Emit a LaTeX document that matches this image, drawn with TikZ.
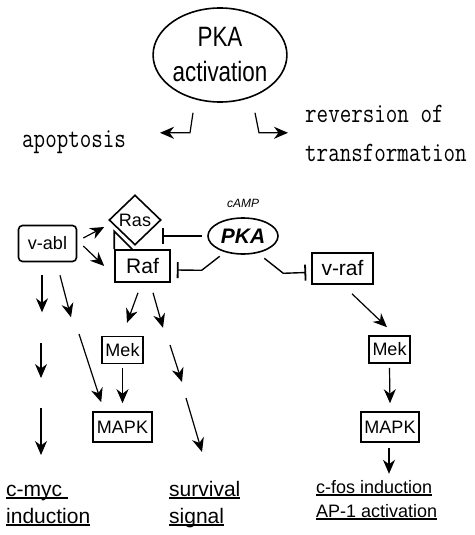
\documentclass[tikz,border=0pt]{standalone}
\usepackage{fontspec}
\setmainfont{Liberation Sans}
\usepackage{graphicx}
\usetikzlibrary{arrows.meta, calc, positioning, shapes.geometric}

\newcommand{\narrowed}[1]{\scalebox{0.8}[1]{#1}}
\newsavebox{\ulbox}
\newcommand{\undertext}[1]{\sbox{\ulbox}{#1}\rlap{\rule[-2.5pt]{\wd\ulbox}{1.1pt}}\usebox{\ulbox}}

\begin{document}
\begin{tikzpicture}[x=1pt, y=-1pt,
    box/.style={draw, line width=1.6pt, inner sep=0pt, font=\fontsize{18}{18}\selectfont},
    arr/.style={line width=1.2pt, -{Stealth[length=14pt, width=12pt, inset=4.5pt]}},
    inh/.style={line width=1.4pt, -{Bar[width=16pt, line width=1.8pt]}},
    mono/.style={font=\fontsize{28}{39}\ttfamily, align=left, anchor=base west, inner sep=0pt},
    outcome/.style={align=left, anchor=base west, inner sep=0pt}]
    \useasboundingbox (0,0) rectangle (474,535);

    % PKA activation and its two outcomes
    \node[draw, ellipse, line width=1.6pt, minimum width=128pt, minimum height=94pt, inner sep=0pt,
        align=center, font=\fontsize{28}{35}\selectfont] (act) at (220,55) {\narrowed{PKA}\\\narrowed{activation}};
    \node[mono] (apo) at (22,147) {\narrowed{apoptosis}};
    \node[mono] (rev) at (305,161) {\narrowed{reversion of}\\\narrowed{transformation}};
    \draw[arr] ($(act.south)+(-27,10)$) -- ++(-3,20) -- ++(-30,0);
    \draw[arr] ($(act.south)+(35,10)$) -- ++(4,20) -- ++(29,0);

    % Signalling nodes
    \node[box, rounded corners=4pt, minimum width=58pt, minimum height=36pt] (vabl) at (47.5,243.5) {v-abl};
    \node[draw, diamond, line width=1.6pt, minimum width=52pt, minimum height=50pt, inner sep=0pt,
        font=\fontsize{18}{18}\selectfont] (ras) at (135,220) {Ras};
    \node[box, minimum width=55pt, minimum height=32pt, font=\fontsize{21}{21}\selectfont] (raf) at (142.5,266) {Raf};
    \draw[line width=1.6pt] (raf.north west) -- ++(0,-18) -- ++(18,18);
    \node[draw, ellipse, line width=1.6pt, minimum width=70pt, minimum height=36pt, inner sep=0pt,
        font=\fontsize{21}{21}\selectfont\bfseries\itshape] (pka) at (243,236) {PKA};
    \node[font=\fontsize{12}{12}\selectfont\itshape, inner sep=0pt] (camp) at (243,203) {cAMP};
    \node[box, minimum width=61pt, minimum height=31pt, font=\fontsize{21}{21}\selectfont] (vraf) at (342.5,268.5) {v-raf};
    \node[box, minimum width=41pt, minimum height=27pt] (mekL) at (122.5,350) {Mek};
    \node[box, minimum width=59pt, minimum height=30pt] (mapkL) at (122.5,427) {MAPK};
    \node[box, minimum width=41pt, minimum height=27pt] (mekR) at (389.5,349.5) {Mek};
    \node[box, minimum width=58pt, minimum height=30pt] (mapkR) at (390,427) {MAPK};

    % Outcomes
    \node[outcome, font=\fontsize{21}{27}\selectfont] (myc) at (6,523) {\undertext{c-myc\ }\\\undertext{induction}};
    \node[outcome, font=\fontsize{21}{27}\selectfont] (surv) at (169,523) {\undertext{survival}\\\undertext{signal}};
    \node[outcome, font=\fontsize{18}{24}\selectfont] (fos) at (316,517) {\undertext{c-fos induction}\\\undertext{AP-1 activation}};

    % Inhibition by PKA
    \draw[inh] ($(pka.west)+(-5,0)$) -- (ras.east |- pka.west);
    \draw[inh] ($(pka.south west)+(2,7)$) -- ++(-18,14) -- ($(raf.east)+(6,4)$);
    \draw[inh] ($(pka.south east)+(-4,9)$) -- ++(19,15) -- ($(vraf.west)+(-5,4)$);

    % Arrows out of v-abl and Raf
    \draw[arr] ($(vabl.east)+(6,-5.5)$) -- ($(ras.west)+(-4,7)$);
    \draw[arr] ($(vabl.east)+(6,2.5)$) -- ($(raf.west)+(-10,0)$);
    \draw[arr] ($(vabl.south)+(-5.5,13)$) -- ++(0,37);
    \draw[arr] ($(vabl.south)+(12.5,13)$) -- ++(11,42);
    \draw[arr] ($(raf.south)+(-4.5,10)$) -- ++(-11,30);
    \draw[arr] ($(raf.south)+(10.5,10)$) -- ++(10,35);

    % Free arrows towards the outcomes
    \coordinate (myc1) at (41,343);
    \coordinate (myc2) at (41,408);
    \coordinate (abl2) at (79,334);
    \coordinate (surv1) at (170,345);
    \coordinate (surv2) at (186,398);
    \draw[arr] (myc1) -- ++(0,35);
    \draw[arr] (myc2) -- ++(0,47);
    \draw[arr] (abl2) -- ($(mapkL.north west)+(9,-9)$);
    \draw[arr] (surv1) -- ++(12,37);
    \draw[arr] (surv2) -- ++(16,54);

    % Mek and MAPK
    \draw[arr] ($(mekL.south)+(0,4)$) -- ($(mapkL.north)+(0,-8)$);
    \draw[arr] ($(vraf.south)+(9.5,9)$) -- ($(mekR.north)+(-2.5,-8)$);
    \draw[arr] ($(mekR.south)+(0,4)$) -- ($(mapkR.north)+(0,-8)$);
    \draw[arr] ($(mapkR.south)+(-1,5)$) -- ++(0,26);
\end{tikzpicture}
\end{document}
